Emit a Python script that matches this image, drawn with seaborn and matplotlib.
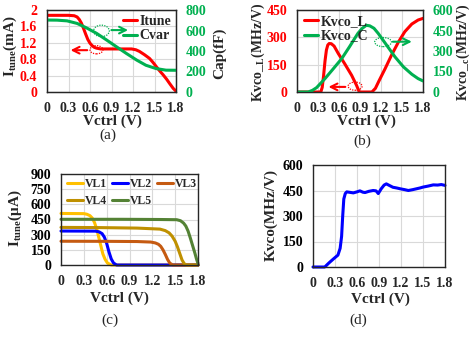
import numpy as np
import pandas as pd
import matplotlib
matplotlib.use("Agg")
import matplotlib.pyplot as plt
from matplotlib.patches import Ellipse
from matplotlib.lines import Line2D
import seaborn as sns

# ---------------- data ----------------
# (a) Itune (mA) and Cvar (fF) vs Vctrl
a_itune_v = [0, 0.30, 0.38, 0.42, 0.45, 0.48, 0.51, 0.54, 0.57, 0.60, 0.63, 0.66, 0.69, 0.75, 0.9, 1.05, 1.18, 1.24, 1.29, 1.36, 1.43, 1.48, 1.52, 1.57, 1.62, 1.67, 1.71, 1.76, 1.8]
a_itune_i = [1.87, 1.87, 1.86, 1.83, 1.77, 1.68, 1.55, 1.41, 1.28, 1.19, 1.13, 1.09, 1.07, 1.05, 1.05, 1.05, 1.05, 1.03, 0.99, 0.91, 0.82, 0.72, 0.63, 0.52, 0.42, 0.31, 0.21, 0.09, 0.02]
a_cvar_v = [0, 0.14, 0.28, 0.42, 0.55, 0.69, 0.83, 0.97, 1.11, 1.25, 1.38, 1.52, 1.66, 1.8]
a_cvar_c = [702, 701, 694, 669, 626, 573, 508, 441, 375, 312, 261, 229, 213, 212]

# (b) Kvco_L and Kvco_C (MHz/V)
b_l_v = [0, 0.34, 0.36, 0.38, 0.40, 0.42, 0.44, 0.46, 0.49, 0.53, 0.59, 0.68, 0.78, 0.85, 0.89, 1.07, 1.12, 1.17, 1.26, 1.35, 1.45, 1.54, 1.64, 1.73, 1.8]
b_l_k = [0, 0, 25, 90, 170, 230, 258, 266, 265, 252, 211, 156, 92, 37, 0, 0, 20, 60, 129, 202, 275, 331, 373, 395, 404]
b_c_v = [0, 0.16, 0.22, 0.28, 0.4, 0.52, 0.64, 0.75, 0.87, 0.93, 0.99, 1.04, 1.10, 1.16, 1.28, 1.4, 1.52, 1.64, 1.73, 1.8]
b_c_k = [0, 0, 12, 32, 98, 171, 245, 331, 429, 465, 488, 484, 466, 429, 343, 257, 184, 130, 98, 81]

# (c) Itune (uA) for VL1..VL5
c_vl1_v = [0, 0.30, 0.34, 0.38, 0.41, 0.44, 0.47, 0.51, 0.55, 0.58, 0.61, 0.66, 1.8]
c_vl1_i = [510, 508, 502, 488, 465, 420, 355, 231, 110, 55, 20, 0, 0]
c_vl2_v = [0, 0.45, 0.50, 0.54, 0.57, 0.60, 0.63, 0.66, 0.69, 0.73, 1.8]
c_vl2_i = [336, 335, 328, 310, 275, 214, 130, 60, 20, 0, 0]
c_vl3_v = [0, 0.6, 1.0, 1.18, 1.24, 1.28, 1.31, 1.34, 1.37, 1.40, 1.43, 1.47, 1.8]
c_vl3_i = [235, 234, 232, 227, 218, 205, 185, 150, 105, 55, 18, 0, 0]
c_vl4_v = [0, 0.5, 1.0, 1.30, 1.37, 1.42, 1.46, 1.50, 1.53, 1.56, 1.59, 1.62, 1.65, 1.8]
c_vl4_i = [372, 370, 365, 355, 340, 318, 285, 235, 180, 115, 50, 12, 0, 0]
c_vl5_v = [0, 0.8, 1.3, 1.52, 1.57, 1.61, 1.64, 1.67, 1.70, 1.73, 1.76, 1.78, 1.8]
c_vl5_i = [452, 452, 450, 448, 438, 415, 385, 335, 265, 190, 115, 60, 15]

# (d) Kvco (MHz/V)
d_v = [0, 0.16, 0.22, 0.28, 0.34, 0.37, 0.39, 0.405, 0.42, 0.44, 0.46, 0.49, 0.52, 0.55, 0.6, 0.64, 0.68, 0.71, 0.76, 0.82, 0.86, 0.89, 0.93, 0.97, 1.0, 1.04, 1.09, 1.14, 1.19, 1.25, 1.30, 1.36, 1.41, 1.46, 1.5, 1.57, 1.64, 1.7, 1.75, 1.8]
d_k = [0, 0, 25, 48, 70, 110, 180, 300, 400, 432, 442, 440, 438, 436, 442, 448, 440, 438, 445, 450, 448, 432, 460, 482, 489, 480, 469, 465, 460, 455, 450, 455, 460, 465, 470, 476, 483, 482, 485, 480]

x_ticks = [0, 0.3, 0.6, 0.9, 1.2, 1.5, 1.8]
x_labels = ["0", "0.3", "0.6", "0.9", "1.2", "1.5", "1.8"]

# ---------------- style ----------------
sns.set_style("white")
plt.rcParams["font.family"] = ["Liberation Serif", "DejaVu Serif"]
plt.rcParams["font.weight"] = "bold"
plt.rcParams["axes.labelweight"] = "bold"
plt.rcParams["mathtext.fontset"] = "custom"
plt.rcParams["mathtext.rm"] = "Liberation Serif:bold"
plt.rcParams["mathtext.bf"] = "Liberation Serif:bold"
plt.rcParams["mathtext.it"] = "Liberation Serif:bold"

RED = "#FF0000"
GREEN = "#00B050"
GRID = "#D9D9D9"
TICK_FS = 10
LAB_FS = 11
LW = 2.2

W, H = 474, 344
fig = plt.figure(figsize=(W / 100, H / 100), dpi=100)


def px_axes(l, r, t, b):
    return fig.add_axes([l / W, (H - b) / H, (r - l) / W, (b - t) / H])


def style_ax(ax, yticks, ylabels, ycolor="black"):
    ax.set_xlim(0, 1.8)
    ax.set_xticks(x_ticks)
    ax.set_xticklabels(x_labels)
    ax.set_yticks(yticks)
    ax.set_yticklabels(ylabels)
    ax.set_ylim(yticks[0], yticks[-1])
    ax.grid(True, color=GRID, lw=0.8)
    ax.set_axisbelow(True)
    ax.tick_params(length=0, pad=7, labelsize=TICK_FS)
    ax.tick_params(axis="y", labelcolor=ycolor)
    for s in ax.spines.values():
        s.set_color("#262626")
        s.set_linewidth(1.0)


def set_labels(ax, xlab, xpos, ylab, ypos, yfs=LAB_FS):
    ax.set_xlabel(xlab, fontsize=LAB_FS, fontweight="bold", va="center", ha="center")
    ax.xaxis.set_label_coords(*xpos)
    ax.set_ylabel(ylab, fontsize=yfs, fontweight="bold", va="center", ha="center",
                  rotation_mode="default")
    ax.yaxis.set_label_coords(*ypos)


def line(ax, xs, ys, color, label):
    df = pd.DataFrame({"v": xs, "y": ys})
    sns.lineplot(data=df, x="v", y="y", ax=ax, color=color, lw=LW, label=label,
                 sort=False, estimator=None, legend=False)


def annotate(ax, cx, cy, w, h, x0, x1, ya, color):
    ax.add_patch(Ellipse((cx, cy), w, h, fill=False, ls=(0, (1, 1)), lw=0.9,
                         edgecolor=color, zorder=6))
    ax.annotate("", xy=(x1, ya), xytext=(x0, ya),
                arrowprops=dict(arrowstyle="->", color=color, lw=1.5,
                                mutation_scale=12), zorder=6)


# ---------------- (a) ----------------
axa = px_axes(47, 176, 10, 92)
line(axa, a_itune_v, a_itune_i, RED, "Itune")
style_ax(axa, [0, 0.4, 0.8, 1.2, 1.6, 2.0], ["0", "0.4", "0.8", "1.2", "1.6", "2"], RED)
axa2 = axa.twinx()
line(axa2, a_cvar_v, a_cvar_c, GREEN, "Cvar")
axa2.set_ylim(0, 800)
axa2.set_yticks([0, 200, 400, 600, 800])
axa2.tick_params(length=0, pad=7, labelsize=TICK_FS, labelcolor=GREEN)
axa2.set_xlim(0, 1.8)
for s in axa2.spines.values():
    s.set_color("#262626")
set_labels(axa, "Vctrl (V)", (0.504, -0.36), r"I$_{\mathrm{tune}}$(mA)", (-0.287, 0.56))
axa2.set_ylabel("Cap(fF)", fontsize=LAB_FS, fontweight="bold", va="center", ha="center",
                rotation=90, rotation_mode="default")
axa2.yaxis.set_label_coords(1.341, 0.476)
# annotations (in right-axis units: 1 mA = 400 fF)
annotate(axa2, 0.69, 1.03 * 400, 0.18, 0.2 * 400, 0.6, 0.29, 1.02 * 400, RED)
annotate(axa2, 0.76, 1.49 * 400, 0.22, 0.28 * 400, 0.86, 1.17, 1.51 * 400, GREEN)
hs = [Line2D([], [], color=RED, lw=LW), Line2D([], [], color=GREEN, lw=LW)]
axa2.legend(hs, ["Itune", "Cvar"], loc="upper right", bbox_to_anchor=(1.03, 1.04),
            frameon=False, fontsize=TICK_FS, handlelength=1.0, handletextpad=0.2,
            labelspacing=0.1, borderpad=0.1)
fig.text(108 / W, 1 - 135 / H, "(a)", ha="center", va="center", fontsize=11, fontweight="normal")

# ---------------- (b) ----------------
axb = px_axes(297, 423, 10, 92)
line(axb, b_l_v, b_l_k, RED, "Kvco_L")
style_ax(axb, [0, 150, 300, 450], ["0", "150", "300", "450"], RED)
axb2 = axb.twinx()
line(axb2, b_c_v, b_c_k, GREEN, "Kvco_C")
axb2.set_ylim(0, 600)
axb2.set_yticks([0, 150, 300, 450, 600])
axb2.tick_params(length=0, pad=7, labelsize=TICK_FS, labelcolor=GREEN)
axb2.set_xlim(0, 1.8)
for s in axb2.spines.values():
    s.set_color("#262626")
set_labels(axb, "Vctrl (V)", (0.55, -0.36), r"Kvco_$_{\mathrm{L}}$(MHz/V)", (-0.31, 0.48),
           yfs=10)
axb2.set_ylabel(r"Kvco_$_{\mathrm{c}}$(MHz/V)", fontsize=10, fontweight="bold",
                va="center", ha="center", rotation=90, rotation_mode="default")
axb2.yaxis.set_label_coords(1.322, 0.48)
k = 600 / 450
annotate(axb2, 0.83, 32 * k, 0.2, 45 * k, 0.73, 0.41, 28 * k, RED)
annotate(axb2, 1.23, 274 * k, 0.24, 50 * k, 1.33, 1.68, 276 * k, GREEN)
axb2.legend(hs, ["Kvco_L", "Kvco_C"], loc="upper left", bbox_to_anchor=(-0.01, 1.04),
            frameon=False, fontsize=TICK_FS, handlelength=1.0, handletextpad=0.2,
            labelspacing=0.1, borderpad=0.1)
fig.text(362 / W, 1 - 141 / H, "(b)", ha="center", va="center", fontsize=11, fontweight="normal")

# ---------------- (c) ----------------
axc = px_axes(61, 198, 174, 265)
vl_cols = ["#FFC000", "#0000FF", "#C55A11", "#BF9000", "#548235"]
vl_data = [(c_vl1_v, c_vl1_i, "VL1"), (c_vl2_v, c_vl2_i, "VL2"), (c_vl3_v, c_vl3_i, "VL3"),
           (c_vl4_v, c_vl4_i, "VL4"), (c_vl5_v, c_vl5_i, "VL5")]
for (xs, ys, lab), col in zip(vl_data, vl_cols):
    line(axc, xs, ys, col, lab)
yt = [0, 150, 300, 450, 600, 750, 900]
style_ax(axc, yt, [str(v) for v in yt])
for l in axc.lines:
    l.set_clip_on(False)
set_labels(axc, "Vctrl (V)", (0.43, -0.363), r"I$_{\mathrm{tune}}$($\mu$A)", (-0.336, 0.516))
hc = [Line2D([], [], color=c, lw=LW) for c in vl_cols]
order = [0, 3, 1, 4, 2]
axc.legend([hc[i] for i in order], [vl_data[i][2] for i in order], ncol=3,
           loc="upper left", bbox_to_anchor=(-0.01, 1.03), frameon=False, fontsize=8.5,
           handlelength=1.35, handletextpad=0.15, columnspacing=0.45, labelspacing=0.4,
           borderpad=0.1)
fig.text(110 / W, 1 - 320 / H, "(c)", ha="center", va="center", fontsize=11, fontweight="normal")

# ---------------- (d) ----------------
axd = px_axes(313, 445, 165, 267)
line(axd, d_v, d_k, "#0000FF", "Kvco")
yt = [0, 150, 300, 450, 600]
style_ax(axd, yt, [str(v) for v in yt])
for l in axd.lines:
    l.set_clip_on(False)
set_labels(axd, "Vctrl (V)", (0.51, -0.314), "Kvco(MHz/V)", (-0.318, 0.51))
fig.text(358 / W, 1 - 320 / H, "(d)", ha="center", va="center", fontsize=11, fontweight="normal")

fig.savefig("out.png", dpi=100)
